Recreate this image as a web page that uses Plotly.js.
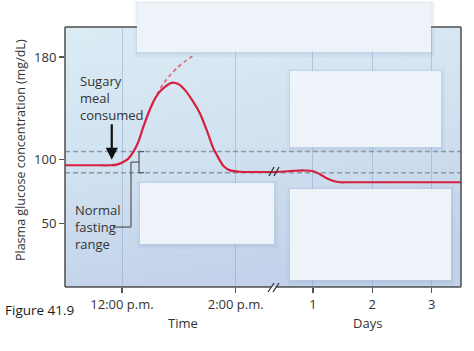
<!DOCTYPE html>
<html><head><meta charset="utf-8">
<script src="https://cdn.plot.ly/plotly-3.0.1.min.js"></script>
<style>html,body{margin:0;padding:0;background:#fff;}#chart{width:474px;height:351px;}</style>
</head><body><div id="chart"></div>
<script>
// ---- data ----
const timeTicks = [0, 2];
const timeTickText = ['12:00 p.m.', '2:00 p.m.'];
const dayTicks = [1, 2, 3];
const dayTickText = ['1', '2', '3'];
const yTicks = [50, 100, 180];

// hours after 12:00 p.m.
const hoursAfterNoon = [-1.0, -0.5, -0.2, -0.093, 0.023, 0.111, 0.199, 0.287, 0.375, 0.463, 0.551, 0.639, 0.756, 0.874, 0.99, 1.108, 1.254, 1.372, 1.49, 1.606, 1.666, 1.724, 1.794, 1.9, 2.076, 2.34, 2.691];
const glucoseHours   = [95.3, 95.3, 95.3, 95.8, 97.9, 100.5, 105.7, 113.6, 125.3, 135.8, 144.9, 151.5, 156.7, 159.8, 158.8, 154.1, 144.9, 135.8, 122.7, 108.5, 103.5, 98.8, 94.3, 91.3, 90.2, 90.0, 90.0];

const days        = [0.36, 0.612, 0.865, 1.005, 1.118, 1.23, 1.342, 1.455, 1.62, 2.5, 3.494];
const glucoseDays = [90.0, 90.8, 91.2, 90.6, 88.2, 85.1, 83.0, 82.0, 82.0, 82.0, 82.0];

const extrapHours   = [0.46, 0.56, 0.65, 0.75, 0.86, 0.98, 1.12, 1.29];
const extrapGlucose = [135.8, 145.5, 153.5, 160.5, 166.5, 172, 177, 182];

const fastingRange = [89.5, 106];
const mealTime = -0.18;
const mealGlucose = 99.5;

// ---- geometry helpers ----
const W = 474, H = 351, L = 65, R = 13, T = 27, B = 64;
const PW = W - L - R, PH = H - T - B;
const xp = px => (px - L) / PW;
const yp = py => (H - B - py) / PH;
const brk = xp(275);

const frameColor = '#4d4d4d';
function pline(x0, y0, x1, y1, color, width) {
  return {type: 'line', xref: 'paper', yref: 'paper', x0: xp(x0), y0: yp(y0), x1: xp(x1), y1: yp(y1),
          line: {color: color, width: width}, layer: 'above'};
}
function box(x0, y0, x1, y1) {
  return [
    {type: 'rect', xref: 'paper', yref: 'paper', x0: xp(x0 - 3), y0: yp(y1 + 5), x1: xp(x1 + 4), y1: yp(y0 - 2),
     fillcolor: 'rgba(130,155,195,0.08)', line: {width: 0}, layer: 'above'},
    {type: 'rect', xref: 'paper', yref: 'paper', x0: xp(x0 - 1), y0: yp(y1 + 3), x1: xp(x1 + 2), y1: yp(y0 - 1),
     fillcolor: 'rgba(130,155,195,0.12)', line: {width: 0}, layer: 'above'},
    {type: 'rect', xref: 'paper', yref: 'paper', x0: xp(x0), y0: yp(y1), x1: xp(x1), y1: yp(y0),
     fillcolor: '#eef3fa', line: {width: 0}, layer: 'above'}
  ];
}

const shapes = [];
// fasting range dashed lines
fastingRange.forEach(v => shapes.push({type: 'line', xref: 'paper', yref: 'y', x0: 0, x1: 1, y0: v, y1: v,
  line: {color: '#8b97a4', width: 1.5, dash: '5px,3px'}, layer: 'below'}));
// bracket
const bx = 0.299, bt = 0.387, cx = 0.158, lx = -0.158, lv = 46.9;
const mid = (fastingRange[0] + fastingRange[1]) / 2;
const bc = '#555';
[[bx, fastingRange[0], bx, fastingRange[1]], [bx, fastingRange[0], bt, fastingRange[0]], [bx, fastingRange[1], bt, fastingRange[1]],
 [cx, mid, bx, mid], [cx, mid, cx, lv], [lx, lv, cx, lv]].forEach(s => shapes.push({
  type: 'line', xref: 'x', yref: 'y', x0: s[0], y0: s[1], x1: s[2], y1: s[3], line: {color: bc, width: 1.2}, layer: 'above'}));
// frame
shapes.push(pline(65, 27, 65, 287, frameColor, 1.5));
shapes.push(pline(65, 27, 461, 27, frameColor, 1.5));
shapes.push(pline(461, 27, 461, 287, frameColor, 1.5));
shapes.push(pline(65, 287, 271, 287, frameColor, 1.5));
shapes.push(pline(276, 287, 461, 287, frameColor, 1.5));
// break marks
shapes.push(pline(268, 292, 274, 283, '#333', 1.3));
shapes.push(pline(273, 292, 279, 283, '#333', 1.3));
shapes.push(pline(269, 176, 274, 167, '#333', 1.3));
shapes.push(pline(274, 176, 279, 167, '#333', 1.3));
// blank label boxes
shapes.push(...box(137, 3, 431, 52));
shapes.push(...box(290, 71, 441, 147));
shapes.push(...box(140, 183, 274, 244));
shapes.push(...box(290, 189, 451, 280));

const txt = '#333';
const F = 'Open Sans, sans-serif';
function ptxt(text, x, y, xanchor, size, color) {
  return {text: text, xref: 'paper', yref: 'paper', x: xp(x), y: yp(y), xanchor: xanchor || 'left', yanchor: 'middle',
          align: 'left', showarrow: false, font: {family: F, size: size || 13, color: color || txt}};
}
const annotations = [
  ptxt('Sugary<br>meal<br>consumed', 78, 98),
  ptxt('Normal<br>fasting<br>range', 73, 226.7),
  ptxt('Time', 183, 323, 'center'), ptxt('Days', 367, 323, 'center'),
  ptxt('Figure 41.9', 3, 310, 'left', 13.5, '#1a1a1a'),
  {text: 'Plasma glucose concentration (mg/dL)', xref: 'paper', yref: 'paper', x: xp(20), y: yp(150),
   xanchor: 'center', yanchor: 'middle', textangle: -90, showarrow: false, font: {family: F, size: 12.5, color: txt}},
  {text: '', xref: 'x', yref: 'y', x: mealTime, y: mealGlucose, ax: 0, ay: -37, showarrow: true,
   arrowhead: 2, arrowsize: 1.1, arrowwidth: 2.2, arrowcolor: '#111', standoff: 0}
];

const grad = "<svg xmlns='http://www.w3.org/2000/svg' width='100' height='100' preserveAspectRatio='none'>" +
  "<defs><linearGradient id='g' x1='0' y1='0' x2='0.25' y2='1'><stop offset='0' stop-color='#dcecf5'/>" +
  "<stop offset='0.55' stop-color='#d0e1f0'/><stop offset='1' stop-color='#c3d2ea'/></linearGradient></defs>" +
  "<rect width='100' height='100' fill='url(#g)'/></svg>";

const traces = [
  {x: extrapHours, y: extrapGlucose, xaxis: 'x', yaxis: 'y', mode: 'lines', hoverinfo: 'skip',
   line: {color: '#de6476', width: 1.8, dash: '4px,3px', shape: 'spline', smoothing: 0.8}, opacity: 0.9},
  {x: hoursAfterNoon, y: glucoseHours, xaxis: 'x', yaxis: 'y', mode: 'lines',
   line: {color: '#d6203f', width: 2.2, shape: 'spline', smoothing: 0.7}},
  {x: days, y: glucoseDays, xaxis: 'x2', yaxis: 'y', mode: 'lines',
   line: {color: '#d6203f', width: 2.2, shape: 'spline', smoothing: 0.7}}
];

const axisCommon = {showline: false, zeroline: false, ticks: 'outside', ticklen: 5, tickwidth: 1.2, tickcolor: '#555',
  tickfont: {family: F, size: 13, color: txt}, showgrid: true, gridcolor: 'rgba(110,140,180,0.35)', gridwidth: 1, fixedrange: true};

const layout = {
  width: W, height: H, margin: {l: L, r: R, t: T, b: B, pad: 0},
  paper_bgcolor: '#ffffff', plot_bgcolor: '#d0e1f0', showlegend: false,
  font: {family: F, color: txt},
  xaxis: Object.assign({}, axisCommon, {domain: [0, brk], range: [-1.0027, 2.691], tickvals: timeTicks, ticktext: timeTickText, anchor: 'y'}),
  xaxis2: Object.assign({}, axisCommon, {domain: [brk, 1], range: [0.36, 3.494], tickvals: dayTicks, ticktext: dayTickText, anchor: 'y'}),
  yaxis: Object.assign({}, axisCommon, {showgrid: false, range: [0, 203.5], tickvals: yTicks, anchor: 'x'}),
  images: [{source: 'data:image/svg+xml;charset=utf-8,' + encodeURIComponent(grad), xref: 'paper', yref: 'paper',
    x: 0, y: 1, sizex: 1, sizey: 1, xanchor: 'left', yanchor: 'top', sizing: 'stretch', layer: 'below'}],
  shapes: shapes,
  annotations: annotations
};

Plotly.newPlot('chart', traces, layout, {displayModeBar: false, staticPlot: true});
</script>
</body></html>
